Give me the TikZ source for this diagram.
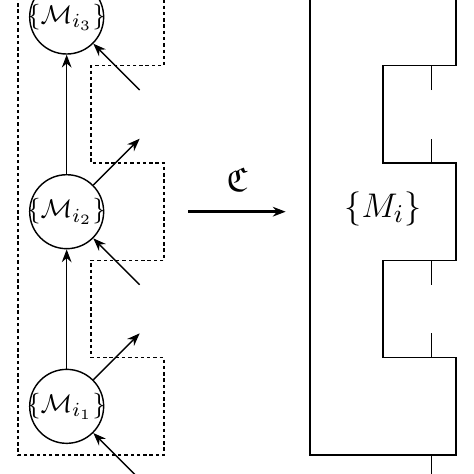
\documentclass[tikz,border=0pt]{standalone}
\usepackage{amsmath}
\usepackage{amssymb}
\usetikzlibrary{arrows.meta}

\begin{document}
\begin{tikzpicture}[x=0.3cm, y=0.3cm, line width=0.5pt, >={Stealth[length=4.5pt, width=3.4pt]},
  mset/.style={draw, circle, minimum size=0.912cm, inner sep=-2pt, font=\fontsize{9.5}{11}\selectfont},
  gluing/.style={dash pattern=on 1.2pt off 1pt}]

\clip (-0.74, -0.78) rectangle (18.74, 18.7);

\draw [gluing] (6, 19.5) -- (6, 16) -- (3, 16) -- (3, 12) -- (6, 12) -- (6, 8) -- (3, 8) -- (3, 4) -- (6, 4) -- (6, 0) -- (0, 0) -- (0, 19.5);
\draw (18, 19.5) -- (18, 16) -- (15, 16) -- (15, 12) -- (18, 12) -- (18, 8) -- (15, 8) -- (15, 4) -- (18, 4) -- (18, 0) -- (12, 0) -- (12, 19.5);

\node [mset] (m1) at (2, 2) {$\{\mathcal{M}_{i_1}\}$};
\node [mset] (m2) at (2, 10) {$\{\mathcal{M}_{i_2}\}$};
\node [mset] (m3) at (2, 18) {$\{\mathcal{M}_{i_3}\}$};

\draw [->] (m1) -- (m2);
\draw [->] (m2) -- (m3);

\foreach \y/\n in {-1/1, 7/2, 15/3} {
\coordinate (in\n) at (5, \y);
\draw [->] (in\n) -- (m\n);
}
\foreach \y/\n in {5/1, 13/2} {
\coordinate (out\n) at (5, \y);
\draw [->] (m\n) -- (out\n);
}

\foreach \y in {-1, 4, 7, 12, 15} {
\draw (17, \y) -- (17, \y + 1);
}

\node [font=\fontsize{13}{15}\selectfont] (quot) at (15, 10.1) {$\{M_i\}$};

\coordinate (cfrom) at (7, 10);
\coordinate (cto) at (11, 10);
\draw [->, very thick] (cfrom) -- (cto) node [midway, above=3pt, font=\large] {$\mathfrak{C}$};

\end{tikzpicture}
\end{document}
